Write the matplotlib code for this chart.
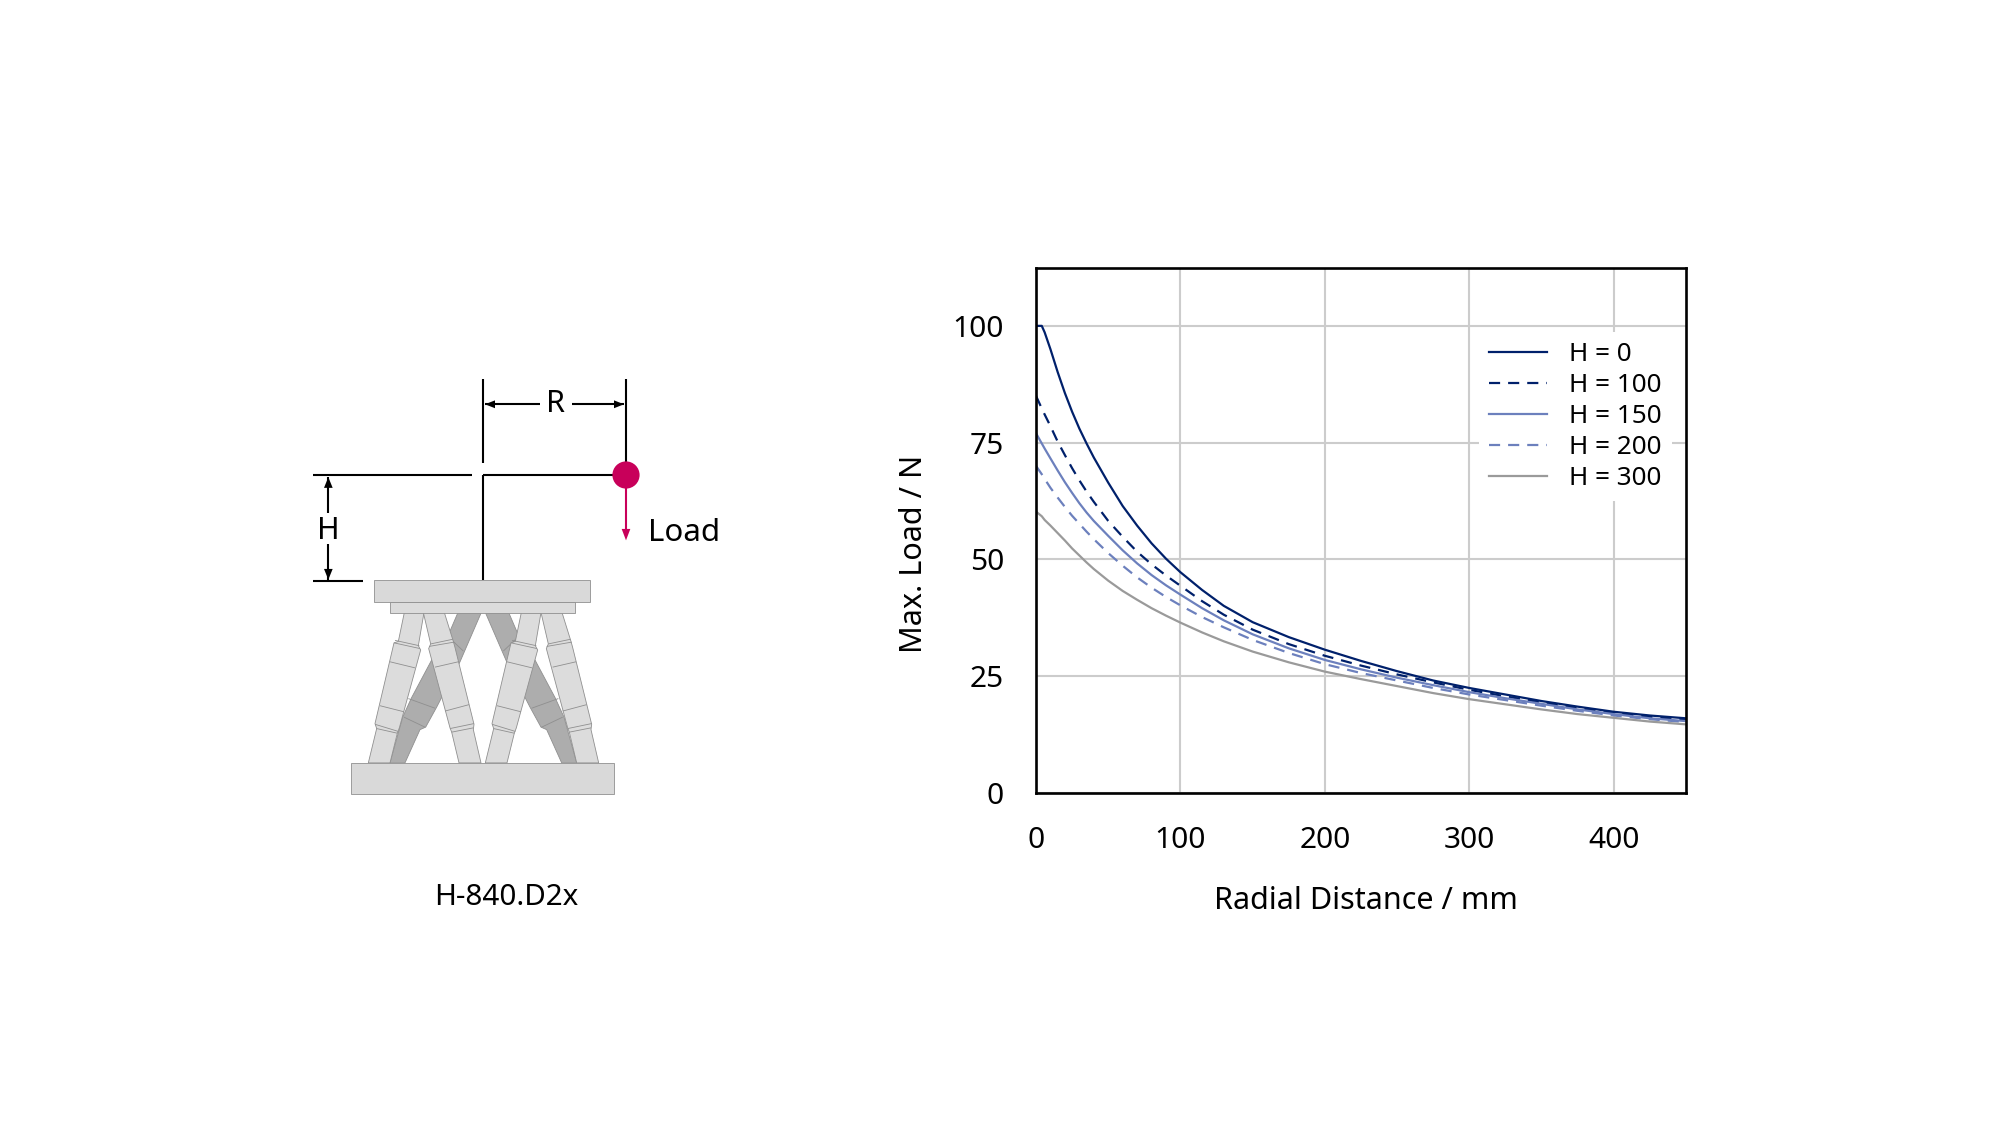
import matplotlib
matplotlib.use('Agg')
import matplotlib.pyplot as plt
from matplotlib.patches import Polygon, Circle

plt.rcParams['font.family'] = ['Noto Sans', 'DejaVu Sans']

# values
radial = [0, 4, 6, 10, 15, 20, 25, 30, 35, 40, 50, 60, 70, 80, 90, 100, 115, 130, 150, 175, 200,
          225, 250, 275, 300, 325, 350, 375, 400, 425, 450]
load_h0 = [100, 100, 98.6, 95, 90.1, 85.6, 81.6, 78, 74.8, 71.8, 66.4, 61.4, 57.2, 53.4, 50.1, 47.2, 43.4, 40, 36.5, 33.3, 30.6,
           28.2, 26, 24, 22.4, 21, 19.6, 18.4, 17.3, 16.5, 15.9]
load_h100 = [85, 82.3, 81, 78.5, 75.2, 72.3, 69.5, 66.9, 64.5, 62.3, 58.2, 54.8, 51.6, 48.9, 46.5, 44.3, 41, 38.1, 34.9, 31.8, 29.3,
             27.2, 25.3, 23.6, 22, 20.6, 19.3, 18.1, 17, 16.2, 15.6]
load_h150 = [77, 74.8, 73.7, 71.6, 69, 66.5, 64.2, 62, 60, 58.2, 55, 51.9, 49.1, 46.6, 44.4, 42.4, 39.5, 36.9, 33.9, 30.9, 28.4,
             26.4, 24.6, 23, 21.5, 20.2, 19, 17.8, 16.8, 15.9, 15.3]
load_h200 = [70, 68.2, 67.2, 65.3, 63.2, 61.2, 59.3, 57.6, 55.9, 54.3, 51.3, 48.6, 46.1, 43.9, 41.9, 40.1, 37.6, 35.4, 32.7, 29.9, 27.5,
             25.6, 24, 22.4, 21, 19.8, 18.6, 17.5, 16.5, 15.7, 15.1]
load_h300 = [60.2, 59.2, 58.4, 57.2, 55.6, 54, 52.3, 50.8, 49.3, 47.9, 45.4, 43.2, 41.3, 39.5, 37.9, 36.4, 34.3, 32.4, 30.2, 27.9, 25.9,
             24.3, 22.8, 21.3, 20, 18.9, 17.8, 16.8, 16, 15.2, 14.6]
labels = ['H = 0', 'H = 100', 'H = 150', 'H = 200', 'H = 300']
x_ticks = [0, 100, 200, 300, 400]
y_ticks = [0, 25, 50, 75, 100]

NAVY = '#00206b'
BLUE = '#6c80bd'
GREY = '#9a9a9a'
DASH = (0, (5, 3.6))
W, H = 2000, 1125

fig = plt.figure(figsize=(20, 11.25), dpi=100, facecolor='white')


# Chart
ax = fig.add_axes([1036/W, 1-792.5/H, 650/W, 524.5/H])
ax.plot(radial, load_h0, color=NAVY, lw=1.6, label=labels[0])
ax.plot(radial, load_h100, color=NAVY, lw=1.6, ls=DASH, label=labels[1])
ax.plot(radial, load_h150, color=BLUE, lw=1.6, label=labels[2])
ax.plot(radial, load_h200, color=BLUE, lw=1.6, ls=DASH, label=labels[3])
ax.plot(radial, load_h300, color=GREY, lw=1.6, label=labels[4])
ax.set_xlim(0, 450)
ax.set_ylim(0, 112.4)
ax.set_xticks(x_ticks)
ax.set_yticks(y_ticks)
ax.grid(color='#cccccc', lw=1.5)
ax.set_axisbelow(True)
ax.tick_params(length=0, labelsize=21.5, pad=23)
ax.tick_params(axis='x', pad=24)
for s in ax.spines.values():
    s.set_linewidth(1.9)
    s.set_zorder(5)
ax.set_xlabel('Radial Distance / mm', fontsize=22)
ax.set_ylabel('Max. Load / N', fontsize=22)
ax.xaxis.set_label_coords(0.507, -0.178)
ax.yaxis.set_label_coords(-0.165, 0.455)

leg = ax.legend(loc='upper left', bbox_to_anchor=((1479-1036)/650, (792.5-332)/524.5),
                fontsize=18.8, frameon=True, framealpha=1, edgecolor='none', fancybox=False,
                borderaxespad=0, borderpad=0.4, handlelength=2.2, handletextpad=0.85, labelspacing=0.225)
leg.set_zorder(3)


# Diagram drawn in pixels of the picture, taken from a crop at (280, 360)
dg = fig.add_axes([0, 0, 1, 1], facecolor='none')
dg.set_xlim(0, W)
dg.set_ylim(H, 0)
dg.axis('off')

def pt(x, y):
    return (280 + x/3, 360 + y/2.8)

def poly(points, fc, dx=0, mirror=None, z=2):
    pts = [pt(mirror - x if mirror else x + dx, y) for x, y in points]
    dg.add_patch(Polygon(pts, closed=True, fc=fc, ec='#8f8f8f', lw=0.6, zorder=z))

def seg(points, color='black', lw=1.5, dx=0, mirror=None, z=4):
    pts = [pt(mirror - x if mirror else x + dx, y) for x, y in points]
    dg.plot([p[0] for p in pts], [p[1] for p in pts], color=color, lw=lw, zorder=z, solid_capstyle='butt')

def head(x, y, dx, dy, color='black', length=32, width=13):
    # arrow head with its tip at x, y
    poly_pts = [(x, y), (x - dx*length + dy*width, y - dy*length + dx*width),
                (x - dx*length - dy*width, y - dy*length - dx*width)]
    dg.add_patch(Polygon([pt(*p) for p in poly_pts], closed=True, fc=color, ec='none', zorder=6))

dark = [(533, 709), (603, 709), (540, 845), (470, 972), (437, 1028), (420, 1035), (375, 1128),
        (330, 1128), (368, 1000), (395, 945), (455, 840), (505, 770)]
dark_bands = [[(385, 948), (465, 975)], [(372, 1000), (435, 1028)], [(505, 775), (550, 815)]]
for m in (None, 1220):
    poly(dark, '#adadad', mirror=m, z=2)
    for b in dark_bands:
        seg(b, color='#8f8f8f', lw=0.6, mirror=m, z=2.1)

strut_a = [(265, 1128), (290, 1032), (285, 1018), (342, 792), (355, 788), (373, 707),
           (432, 707), (415, 800), (422, 812), (358, 1030), (352, 1045), (330, 1128)]
strut_a_bands = [[(285, 1020), (355, 1040)], [(290, 1032), (352, 1045)], [(300, 968), (372, 985)],
                 [(330, 845), (405, 862)], [(342, 792), (420, 808)], [(345, 785), (418, 800)]]
strut_b = [(430, 707), (452, 795), (446, 808), (510, 1030), (515, 1042), (537, 1128),
           (603, 1128), (580, 1035), (582, 1020), (525, 805), (520, 788), (493, 707)]
strut_b_bands = [[(447, 802), (522, 790)], [(452, 795), (518, 782)], [(465, 860), (535, 845)],
                 [(495, 983), (567, 965)], [(510, 1032), (582, 1018)], [(515, 1042), (580, 1030)]]
for dx, strut, bands in ((0, strut_a, strut_a_bands), (0, strut_b, strut_b_bands),
                         (351, strut_a, strut_a_bands), (353, strut_b, strut_b_bands)):
    poly(strut, '#dcdcdc', dx=dx, z=3)
    for b in bands:
        seg(b, color='#8f8f8f', lw=0.6, dx=dx, z=3.1)

poly([(283, 617), (930, 617), (930, 677), (283, 677)], '#d9d9d9', z=3.5)
poly([(331, 677), (884, 677), (884, 707), (331, 707)], '#dcdcdc', z=3.5)
poly([(214, 1128), (1001, 1128), (1001, 1215), (214, 1215)], '#d9d9d9', z=3.5)

seg([(608, 53), (608, 288)])
seg([(608, 322), (608, 617)])
seg([(608, 322), (1000, 322)])
seg([(98, 322), (575, 322)])
seg([(1038, 53), (1038, 290)])
seg([(98, 619), (250, 619)])

seg([(615, 124), (780, 124)])
seg([(875, 124), (1032, 124)])
head(615, 124, -1, 0, length=30, width=11)
head(1032, 124, 1, 0, length=30, width=11)
seg([(145, 328), (145, 428)])
seg([(145, 515), (145, 615)])
head(145, 328, 0, -1, length=30, width=13)
head(145, 615, 0, 1, length=30, width=13)

MAGENTA = '#c8005a'
seg([(1038, 350), (1038, 480)], color=MAGENTA)
head(1038, 505, 0, 1, color=MAGENTA, length=32, width=13)
dg.add_patch(Circle(pt(1038, 322), 13.6, fc=MAGENTA, ec='none', zorder=7))

x, y = pt(827, 124)
dg.text(x, y, 'R', fontsize=22, ha='center', va='center')
x, y = pt(145, 480)
dg.text(x, y, 'H', fontsize=22, ha='center', va='center')
x, y = pt(1105, 508)
dg.text(x, y, 'Load', fontsize=22.5, ha='left', va='baseline')
x, y = pt(678, 1505)
dg.text(x, y, 'H-840.D2x', fontsize=21.3, ha='center', va='center')

fig.savefig('out.png', dpi=100, facecolor='white')
